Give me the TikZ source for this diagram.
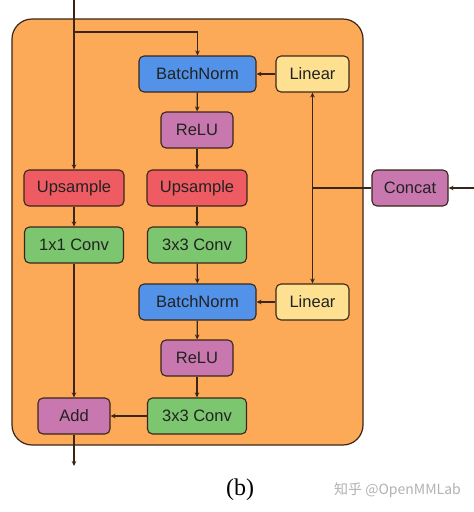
\documentclass[tikz,border=0pt]{standalone}
\usepackage{fontspec}
\setmainfont{Liberation Sans}
\newfontfamily\serifb{Liberation Serif}
\newfontfamily\cjk{Noto Sans CJK SC}
\usetikzlibrary{arrows.meta}
\definecolor{bgorange}{HTML}{FCAA58}
\definecolor{cblue}{HTML}{5293E9}
\definecolor{cyellow}{HTML}{FDE190}
\definecolor{cpink}{HTML}{C878AE}
\definecolor{cred}{HTML}{EE5B62}
\definecolor{cgreen}{HTML}{7DC670}
\definecolor{edge}{HTML}{3A2618}
\definecolor{txt}{HTML}{222222}
\tikzset{
  blk/.style={draw=edge, line width=1.1pt, rounded corners=5pt, inner sep=0pt,
    minimum height=36pt, text=txt, font=\fontsize{16.5}{19}\selectfont},
  bn/.style={blk, fill=cblue, minimum width=117pt},
  lin/.style={blk, fill=cyellow, minimum width=73pt},
  relu/.style={blk, fill=cpink, minimum width=72pt},
  ups/.style={blk, fill=cred, minimum width=100pt},
  cnv/.style={blk, fill=cgreen, minimum width=99pt},
  conn/.style={draw=edge, line width=1.3pt},
  arr/.style={conn, -{Stealth[length=5pt,width=4.5pt]}},
  darr/.style={conn, {Stealth[length=5pt,width=4.5pt]}-{Stealth[length=5pt,width=4.5pt]}},
}
\begin{document}
\begin{tikzpicture}[x=1pt,y=-1pt]
\useasboundingbox (0,0) rectangle (474,512);
\fill[white] (0,0) rectangle (474,512);
\draw[draw=edge, line width=1.2pt, fill=bgorange, rounded corners=20pt] (12,19) rectangle (363,445);

\node[bn] (bn1) at (197.5,74) {BatchNorm};
\node[lin] (lin1) at (312.5,74) {Linear};
\node[relu] (relu1) at (197,130) {ReLU};
\node[ups] (upl) at (74,188) {Upsample};
\node[ups] (upm) at (197,188) {Upsample};
\node[cnv] (c1) at (74,245) {1x1 Conv};
\node[cnv] (c3a) at (197,245) {3x3 Conv};
\node[bn] (bn2) at (197.5,302) {BatchNorm};
\node[lin] (lin2) at (312.5,302) {Linear};
\node[relu] (relu2) at (197,358) {ReLU};
\node[blk, fill=cpink, minimum width=72pt] (add) at (74,416) {Add};
\node[cnv] (c3b) at (197,416) {3x3 Conv};
\node[blk, fill=cpink, minimum width=76pt] (cat) at (410,188) {Concat};

\coordinate (in) at (74,0);
\coordinate (split) at (74,32);
\coordinate (out) at (74,466);
\coordinate (catin) at (474,188);
\coordinate (j) at (312.5,188);

\draw[arr] (in) -- (upl.north);
\draw[arr] (split) -| (bn1.north);
\draw[arr] (upl) -- (c1);
\draw[arr] (c1) -- (add);
\draw[arr] (add) -- (out);
\draw[arr] (bn1) -- (relu1);
\draw[arr] (relu1) -- (upm);
\draw[arr] (upm) -- (c3a);
\draw[arr] (c3a) -- (bn2);
\draw[arr] (bn2) -- (relu2);
\draw[arr] (relu2) -- (c3b);
\draw[arr] (c3b) -- (add);
\draw[arr] (lin1) -- (bn1);
\draw[arr] (lin2) -- (bn2);
\draw[darr] (lin1.south) -- (lin2.north);
\draw[conn] (cat.west) -- (j);
\draw[arr] (catin) -- (cat.east);

\node[font=\serifb\fontsize{24}{28}\selectfont, inner sep=0pt] (lbl) at (240,490) {(b)};
\node[font=\cjk\fontsize{14}{16}\selectfont, text=black!30, inner sep=0pt, anchor=west] (wm) at (334,490) {知乎 @OpenMMLab};
\end{tikzpicture}
\end{document}
